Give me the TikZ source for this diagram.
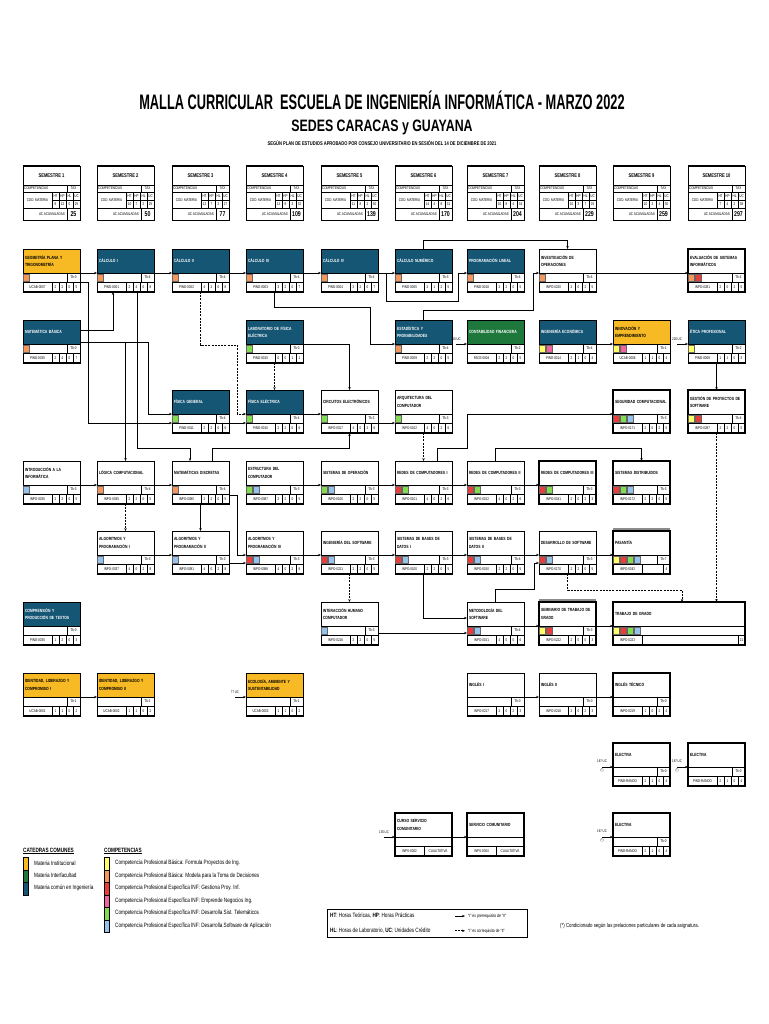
\documentclass[tikz,border=0pt]{standalone}
\usepackage{fontspec}
\setmainfont{Liberation Sans}[FakeStretch=0.75]
\newfontfamily\titfont{Liberation Sans}[FakeStretch=0.61]
\usetikzlibrary{arrows.meta}

\definecolor{azulT}{RGB}{22,86,117}
\definecolor{oroT}{RGB}{247,185,36}
\definecolor{verdeT}{RGB}{30,120,60}
\definecolor{cY}{RGB}{255,255,102}
\definecolor{cO}{RGB}{245,150,90}
\definecolor{cR}{RGB}{235,60,60}
\definecolor{cP}{RGB}{240,100,160}
\definecolor{cG}{RGB}{130,220,80}
\definecolor{cB}{RGB}{150,195,235}

\hyphenpenalty=10000
\exhyphenpenalty=10000

\tikzset{
  caja/.style={draw, line width=.5pt, inner sep=0pt, outer sep=0pt, minimum width=57pt, minimum height=43pt},
  titulo/.style={draw, line width=.5pt, inner sep=2pt, outer sep=0pt, text width=53pt, minimum width=57pt,
    minimum height=24pt, align=left, font=\fontsize{4.5}{7.4}\selectfont\bfseries},
  azul/.style={fill=azulT, text=white},
  oro/.style={fill=oroT, text=black},
  verde/.style={fill=verdeT, text=white},
  blanco/.style={fill=white, text=black},
  grueso/.style={line width=1.3pt},
  celda/.style={inner sep=0pt, font=\fontsize{4}{4.5}\selectfont},
  comp/.style={draw=black!60, line width=.3pt},
  rejilla/.style={line width=.4pt},
  sem/.style={draw, line width=.5pt, inner sep=0pt, outer sep=0pt, minimum width=57pt, minimum height=54pt},
  pre/.style={draw, line width=.7pt, -{Stealth[length=3pt,width=2.4pt]}},
  co/.style={pre, dash pattern=on 2pt off 1.2pt},
  uclab/.style={inner sep=0pt, font=\fontsize{3.8}{4}\selectfont},
  ley/.style={inner sep=0pt, font=\fontsize{6.2}{7}\selectfont},
  muestra/.style={draw, line width=.5pt, inner sep=0pt, minimum width=5pt, minimum height=12.5pt, anchor=north west},
  barra/.style={line width=2pt, black!45}
}

% caja de materia: [marco] nombre, esquina, estilo del titulo, titulo
\newcommand{\materia}[5][]{%
  \node[titulo, #4, anchor=north west] (#2-t) at (#3) {#5};
  \node[caja, anchor=north west, #1] (#2) at (#3) {};
  \coordinate (#2-i) at (#2-t.south west);
  \coordinate (#2-o) at (#2-t.south east);
  \draw[line width=1.2pt] (#2.south west) -- (#2.south east);}

\newcommand{\competencias}[1]{%
  \foreach \col [count=\k from 0] in {#1}{\ifx\col\empty\else
    \filldraw[comp, fill=\col] (7*\k+.6,25) rectangle ++(6,7);\fi}}

% fila de competencias y horas: nombre, colores, TA, codigo, HT/HP/HL/UC
\newcommand{\datos}[5]{%
  \begin{scope}[shift={(#1.north west)}]
    \competencias{#2}
    \draw[rejilla] (0,33) -- (57,33) (44,24) -- (44,33)
      (29,33) -- (29,43) (36,33) -- (36,43) (43,33) -- (43,43) (50,33) -- (50,43);
    \node[celda] (#1-ta) at (50.5,28.5) {#3};
    \node[celda] (#1-cod) at (14.5,38) {#4};
    \foreach \n [count=\k from 0] in {#5}
      \node[celda] (#1-h\k) at (32.5+7*\k,38) {\n};
  \end{scope}}

% pasantia y trabajo de grado: nombre, colores, TA, codigo, UC, ancho
\newcommand{\datosP}[6]{%
  \begin{scope}[shift={(#1.north west)}]
    \competencias{#2}
    \draw[rejilla] (0,33) -- (#6,33) (29,33) -- (29,43) (#6-7,33) -- (#6-7,43);
    \def\tmp{#3}\ifx\tmp\empty\else
      \draw[rejilla] (#6-13,24) -- (#6-13,33);
      \node[celda] (#1-ta) at (#6-6.5,28.5) {#3};\fi
    \node[celda] (#1-cod) at (14.5,38) {#4};
    \node[celda] (#1-uc) at (#6-3.5,38) {#5};
  \end{scope}}

\newcommand{\datosS}[2]{%
  \begin{scope}[shift={(#1.north west)}]
    \draw[rejilla] (0,33) -- (57,33) (29,33) -- (29,43);
    \node[celda] (#1-cod) at (14.5,38) {#2};
    \node[celda] (#1-cual) at (43,38) {CUALITATIVA};
  \end{scope}}

% semestre: numero, x, horas, UC acumuladas
\newcommand{\semestre}[4]{%
  \node[sem, anchor=north west] (s#1) at (#2,166) {};
  \begin{scope}[shift={(s#1.north west)}]
    \draw[line width=1.6pt] (0,0) -- (57,0);
    \node[font=\fontsize{5.4}{6}\selectfont\bfseries] (s#1-t) at (28.5,9.5) {SEMESTRE #1};
    \draw[rejilla] (0,19) -- (57,19) (0,26) -- (57,26) (44,19) -- (44,26) (0,42) -- (57,42)
      (29,26) -- (29,42) (36,26) -- (36,42) (43,26) -- (43,42) (50,26) -- (50,42)
      (29,34) -- (57,34) (44,42) -- (44,54);
    \node[celda, anchor=west] (s#1-c) at (1,22.5) {COMPETENCIAS};
    \node[celda] (s#1-x) at (50.5,22.5) {TAX};
    \node[celda] (s#1-m) at (14.5,34) {COD. MATERIA};
    \foreach \h [count=\k from 0] in {HT,HP,HL,UC}
      \node[celda] (s#1-l\k) at (32.5+7*\k,30) {\h};
    \foreach \n [count=\k from 0] in {#3}
      \node[celda] (s#1-v\k) at (32.5+7*\k,38) {\n};
    \node[celda, anchor=east] (s#1-a) at (42,48) {UC ACUMULADAS};
    \node[font=\fontsize{7}{8}\selectfont\bfseries, inner sep=0pt] (s#1-u) at (50.5,48) {#4};
  \end{scope}}

\begin{document}
\begin{tikzpicture}[x=1pt, y=-1pt]
\useasboundingbox (0,0) rectangle (768,1024);
\fill[white] (0,0) rectangle (768,1024);

\node[font=\titfont\fontsize{21}{23}\selectfont\bfseries] (titulo) at (382,100)
  {MALLA CURRICULAR\ \ ESCUELA DE INGENIERÍA INFORMÁTICA - MARZO 2022};
\node[font=\fontsize{16.5}{18}\selectfont\bfseries] (sedes) at (382,127) {SEDES CARACAS y GUAYANA};
\node[font=\fontsize{5.4}{6}\selectfont\bfseries] (plan) at (382,143)
  {SEGÚN PLAN DE ESTUDIOS APROBADO POR CONSEJO UNIVERSITARIO EN SESIÓN DEL 14 DE DICIEMBRE DE 2021};

\semestre{1}{23}{8,12,0,25}{25}
\semestre{2}{97}{10,7,2,25}{50}
\semestre{3}{172}{12,7,2,27}{77}
\semestre{4}{246}{12,8,3,32}{109}
\semestre{5}{321}{11,8,2,30}{139}
\semestre{6}{395}{14,4,8,31}{170}
\semestre{7}{467}{10,8,4,34}{204}
\semestre{8}{539}{10,3,7,25}{229}
\semestre{9}{613}{10,3,4,30}{259}
\semestre{10}{688}{7,4,2,38}{297}

% fila 1
\materia{geo}{23,249}{oro}{GEOMETRÍA PLANA Y TRIGONOMETRÍA}
\datos{geo}{cO}{TA-0}{UCAB-0007}{2,2,0,5}
\materia{calI}{97,249}{azul}{CÁLCULO I}
\datos{calI}{cO}{TA-4}{PIND-0001}{2,4,0,8}
\materia{calII}{172,249}{azul}{CÁLCULO II}
\datos{calII}{cO}{TA-4}{PIND-0002}{4,2,0,8}
\materia{calIII}{246,249}{azul}{CÁLCULO III}
\datos{calIII}{cO}{TA-4}{PIND-0003}{3,2,0,7}
\materia{calIV}{321,249}{azul}{CÁLCULO IV}
\datos{calIV}{cO}{TA-4}{PIND-0004}{3,2,0,7}
\materia{calnum}{395,249}{azul}{CÁLCULO NUMÉRICO}
\datos{calnum}{cO}{TA-3}{PIND-0005}{2,1,2,5}
\materia{plineal}{467,249}{azul}{PROGRAMACIÓN LINEAL}
\datos{plineal}{cO}{TA-4}{PIND-0018}{2,2,0,5}
\materia{invop}{539,249}{blanco}{INVESTIGACIÓN DE OPERACIONES}
\datos{invop}{cO}{TA-4}{INPO-0220}{2,0,2,5}
\materia[grueso]{evalsis}{688,249}{blanco}{EVALUACIÓN DE SISTEMAS INFORMÁTICOS}
\datos{evalsis}{cO,cR}{TA-4}{INPO-0281}{2,0,2,5}

% fila 2
\materia{matbas}{23,320}{azul}{MATEMÁTICA BÁSICA}
\datos{matbas}{cO}{TA-0}{PIND-0035}{2,4,0,7}
\materia{labfis}{246,320}{azul}{LABORATORIO DE FÍSICA ELÉCTRICA}
\datos{labfis}{cG}{TA-0}{PIND-0015}{0,0,1,1}
\materia{estad}{395,320}{azul}{ESTADÍSTICA Y PROBABILIDADES}
\datos{estad}{cO}{TA-4}{PIND-0009}{2,2,0,5}
\materia{contab}{467,320}{verde}{CONTABILIDAD FINANCIERA}
\datos{contab}{}{TA-2}{FACE-0004}{2,2,0,5}
\materia{ingeco}{539,320}{azul}{INGENIERÍA ECONÓMICA}
\datos{ingeco}{cY,cP}{TA-4}{PIND-0014}{2,1,0,4}
\materia{innov}{613,320}{oro}{INNOVACIÓN Y EMPRENDIMIENTO}
\datos{innov}{cY,cP}{TA-1}{UCAB-0006}{1,1,0,4}
\materia{etica}{688,320}{azul}{ÉTICA PROFESIONAL}
\datos{etica}{cY}{TA-2}{PIND-0008}{1,1,0,3}

% fila 3
\materia{fisgen}{172,390}{azul}{FÍSICA GENERAL}
\datos{fisgen}{cG}{TA-4}{PIND-0011}{2,2,0,6}
\materia{fiselec}{246,390}{azul}{FÍSICA ELÉCTRICA}
\datos{fiselec}{cG}{TA-4}{PIND-0010}{2,2,0,6}
\materia{circ}{321,390}{blanco}{CIRCUITOS ELECTRÓNICOS}
\datos{circ}{cG}{TA-3}{INPO-0017}{4,0,2,6}
\materia{arq}{395,390}{blanco}{ARQUITECTURA DEL COMPUTADOR}
\datos{arq}{cG}{TA-3}{INPO-0102}{4,0,2,6}
\materia[grueso]{seg}{613,390}{blanco}{SEGURIDAD COMPUTACIONAL}
\datos{seg}{cR,cG,cB}{TA-3}{INPO-0171}{2,0,2,5}
\materia[grueso]{gestion}{688,390}{blanco}{GESTIÓN DE PROYECTOS DE SOFTWARE}
\datos{gestion}{cY,cR}{TA-4}{INPO-0287}{2,2,0,5}

% fila 4
\materia{intro}{23,461}{blanco}{INTRODUCCIÓN A LA INFORMÁTICA}
\datos{intro}{cB}{TA-3}{INPO-0030}{2,2,0,5}
\materia{logica}{97,461}{blanco}{LÓGICA COMPUTACIONAL}
\datos{logica}{cO}{TA-4}{INPO-0035}{2,2,0,5}
\materia{discretas}{172,461}{blanco}{MATEMÁTICAS DISCRETAS}
\datos{discretas}{cO}{TA-4}{INPO-0080}{2,2,0,5}
\materia{estruc}{246,461}{blanco}{ESTRUCTURA DEL COMPUTADOR}
\datos{estruc}{cG,cB}{TA-3}{INPO-0087}{2,2,0,5}
\materia{sisop}{321,461}{blanco}{SISTEMAS DE OPERACIÓN}
\datos{sisop}{cG,cB}{TA-3}{INPO-0105}{2,2,0,5}
\materia{redesI}{395,461}{blanco}{REDES DE COMPUTADORES I}
\datos{redesI}{cR,cG}{TA-3}{INPO-0101}{4,0,2,6}
\materia{redesII}{467,461}{blanco}{REDES DE COMPUTADORES II}
\datos{redesII}{cR,cG}{TA-3}{INPO-0152}{4,0,2,6}
\materia[grueso]{redesIII}{539,461}{blanco}{REDES DE COMPUTADORES III}
\datos{redesIII}{cR,cG}{TA-3}{INPO-0181}{2,0,2,3}
\materia[grueso]{sisdist}{613,461}{blanco}{SISTEMAS DISTRIBUIDOS}
\datos{sisdist}{cR,cG,cB}{TA-3}{INPO-0172}{2,2,0,5}

% fila 5
\materia{algI}{97,531}{blanco}{ALGORITMOS Y PROGRAMACIÓN I}
\datos{algI}{cB}{TA-3}{INPO-0037}{4,0,2,8}
\materia{algII}{172,531}{blanco}{ALGORITMOS Y PROGRAMACIÓN II}
\datos{algII}{cB}{TA-3}{INPO-0081}{4,0,2,8}
\materia{algIII}{246,531}{blanco}{ALGORITMOS Y PROGRAMACIÓN III}
\datos{algIII}{cR,cB}{TA-3}{INPO-0088}{4,0,2,8}
\materia{ingsoft}{321,531}{blanco}{INGENIERÍA DEL SOFTWARE}
\datos{ingsoft}{cR,cB}{TA-3}{INPO-0221}{2,2,0,5}
\materia{bdI}{395,531}{blanco}{SISTEMAS DE BASES DE DATOS I}
\datos{bdI}{cR,cB}{TA-3}{INPO-0100}{2,2,0,5}
\materia{bdII}{467,531}{blanco}{SISTEMAS DE BASES DE DATOS II}
\datos{bdII}{cR,cB}{TA-4}{INPO-0150}{2,2,0,5}
\materia{desarr}{539,531}{blanco}{DESARROLLO DE SOFTWARE}
\datos{desarr}{cR,cB}{TA-3}{INPO-0170}{2,2,0,5}
\materia[grueso]{pasantia}{613,531}{blanco}{PASANTÍA}
\datosP{pasantia}{cY,cR,cG,cB}{TA-7}{INPO-0192}{4}{57}
\draw[barra] ([yshift=1.6pt]pasantia.north west) -- ([yshift=1.6pt]pasantia.north east);

% fila 6
\materia{comprens}{23,602}{azul}{COMPRENSIÓN Y PRODUCCIÓN DE TEXTOS}
\datos{comprens}{}{TA-0}{PIND-0030}{1,2,0,3}
\materia{ihc}{321,602}{blanco}{INTERACCIÓN HUMANO COMPUTADOR}
\datos{ihc}{cB}{TA-3}{INPO-0216}{2,2,0,5}
\materia{metod}{467,602}{blanco}{METODOLOGÍA DEL SOFTWARE}
\datos{metod}{cR,cB}{TA-4}{INPO-0151}{4,0,0,6}
\materia[grueso]{seminario}{539,602}{blanco}{SEMINARIO DE TRABAJO DE GRADO}
\datos{seminario}{cY,cR}{TA-3}{INPO-0222}{2,0,0,3}
\draw[barra] ([yshift=1.6pt]seminario.north west) -- ([yshift=1.6pt]seminario.north east);
\materia[grueso, minimum width=132pt]{tgrado}{613,602}{blanco, text width=128pt, minimum width=132pt}{TRABAJO DE GRADO}
\datosP{tgrado}{cY,cR,cG,cB}{}{INPO-0223}{21}{132}

% fila 7
\materia{identI}{23,673}{oro}{IDENTIDAD, LIDERAZGO Y COMPROMISO I}
\datos{identI}{}{TA-1}{UCAB-0001}{1,1,0,2}
\materia{identII}{97,673}{oro}{IDENTIDAD, LIDERAZGO Y COMPROMISO II}
\datos{identII}{}{TA-1}{UCAB-0002}{1,1,0,2}
\materia{ecolog}{246,673}{oro}{ECOLOGÍA, AMBIENTE Y SUSTENTABILIDAD}
\datos{ecolog}{}{TA-1}{UCAB-0003}{1,1,0,2}
\materia{inglesI}{467,673}{blanco}{INGLÉS I}
\datos{inglesI}{}{TA-0}{INPO-0217}{2,0,2,3}
\materia{inglesII}{539,673}{blanco}{INGLÉS II}
\datos{inglesII}{}{TA-0}{INPO-0218}{2,0,2,3}
\materia[grueso]{ingtec}{613,673}{blanco}{INGLÉS TÉCNICO}
\datos{ingtec}{}{TA-0}{INPO-0219}{1,0,2,4}

% electivas y servicio comunitario
\materia[grueso]{elecA}{613,743}{blanco}{ELECTIVA}
\datos{elecA}{}{TA-0}{PIND-RANDO}{2,1,0,4}
\materia[grueso]{elecB}{688,743}{blanco}{ELECTIVA}
\datos{elecB}{}{TA-0}{PIND-RANDO}{2,1,0,4}
\materia[grueso]{elecC}{613,813}{blanco}{ELECTIVA}
\datos{elecC}{}{TA-0}{PIND-RANDO}{2,1,0,4}
\materia[grueso]{cursosc}{395,813}{blanco}{CURSO SERVICIO COMUNITARIO}
\datosS{cursosc}{INPS-0002}
\materia[grueso]{servcom}{467,813}{blanco}{SERVICIO COMUNITARIO}
\datosS{servcom}{INPS-0004}

% prelaciones en linea
\foreach \a/\b in {geo/calI, calI/calII, calII/calIII, calIII/calIV, calIV/calnum, invop/evalsis,
    fiselec/circ, ingeco/innov, intro/logica, logica/discretas, estruc/sisop, sisop/redesI,
    redesI/redesII, redesII/redesIII, algI/algII, algIII/ingsoft, ingsoft/bdI, bdI/bdII,
    bdII/desarr, desarr/pasantia, metod/seminario, seminario/tgrado, identI/identII,
    inglesI/inglesII, inglesII/ingtec, cursosc/servcom}
  \draw[pre] (\a-o) -- (\b-i);

\draw[pre] (calIV-o) -- ++(8,0) -- ++(0,28) -- ++(72,0) -- ++(0,-28) -- (plineal-i);
\draw[pre] (calIII.south) -- ++(0,15) -| ([xshift=-25pt]estad-i) -- (estad-i);
\draw[pre] (estad.north) -- ++(0,-10) -| ([xshift=-6pt]invop-i) -- (invop-i);
\draw[pre] (calnum.north) -- ++(0,-9) -| (invop.north);
\draw[pre] ([yshift=-10pt]matbas.north east) -| ([xshift=16pt]calI.south west);
\draw[pre] ([yshift=-22pt]matbas.north east) -| ([xshift=-24pt]fisgen-i) -- (fisgen-i);
\draw[pre] ([yshift=-22pt]matbas.north east) -| (logica.north);
\draw[pre] ([yshift=-33pt]geo.north east) -- ++(8,0) |- ([yshift=-33pt]fisgen.north west);
\draw[pre] ([xshift=40pt]calI.south west) -- ++(0,156) -| ([xshift=18pt]discretas.north west);
\draw[co] (calII.south) -- ++(0,53) -| ([xshift=-9pt]fiselec-i) -- (fiselec-i);
\draw[co] (labfis.south) -- (fiselec.north);
\draw[pre] ([yshift=-33pt]fisgen.north east) -- ([yshift=-33pt]fiselec.north west);
\draw[pre] (labfis-o) -| (circ.north);
\draw[pre] ([xshift=40pt]discretas.north west) -- ++(0,-13) -| (circ.south);
\draw[pre] ([yshift=-33pt]circ.north east) -- ([yshift=-33pt]arq.north west);
\draw[co] (arq.south) -- (redesI.north);
\draw[pre] ([xshift=42pt]redesI.north west) -- ++(0,-13) -| ([xshift=-146pt]seg-i) -- (seg-i);
\draw[pre] (redesII.north) -- ++(0,-13) -| (sisdist.north);
\draw[pre] (etica.south) -- (gestion.north);
\draw[co] (gestion.south) -- (gestion.south |- tgrado.north);
\draw[co] (logica.south) -- (algI.north);
\draw[pre] (discretas.south) -- (algII.north);
\draw[pre] ([yshift=-34pt]discretas.north east) -| ([xshift=-9pt]algIII-i) -- (algIII-i);
\draw[pre] ([yshift=-32pt]algII.north east) -- ([yshift=-32pt]algIII.north west);
\draw[co] (ingsoft.south) -- (ihc.north);
\draw[pre] (bdI.south) |- ([yshift=-16pt]metod.north west);
\draw[pre] ([yshift=-31pt]ihc.north east) -- ([yshift=-31pt]metod.north west);
\draw[pre] (metod.north) -- ++(0,-13) -| ([xshift=-5pt,yshift=-32pt]desarr.north west)
  -- ([yshift=-32pt]desarr.north west);
\draw[co] (desarr.south) -- ++(0,16) -| ([xshift=69pt]tgrado.north west);

% requisitos por unidades credito
\foreach \m/\uc in {contab/110 UC, etica/220 UC, ecolog/77 UC, cursosc/135 UC} {
  \coordinate (\m-uc) at ([xshift=-11pt]\m-i);
  \draw[pre] (\m-uc) -- (\m-i);
  \node[uclab, anchor=south] (\m-uct) at ([yshift=3pt]\m-uc) {\uc};
}
\foreach \m in {elecA, elecB, elecC} {
  \coordinate (\m-uc) at ([xshift=-11pt]\m-i);
  \draw[pre] (\m-uc) -- (\m-i);
  \node[uclab, anchor=south] (\m-uct) at ([yshift=4pt]\m-uc) {187 UC};
  \node[uclab, anchor=north] (\m-ast) at ([yshift=-1.5pt]\m-uc) {(*)};
}

% leyendas
\node[ley, anchor=west, font=\fontsize{6.2}{7}\selectfont\bfseries] (catedras) at (23,851) {\underline{CATEDRAS COMUNES}};
\foreach \col/\txt [count=\k from 0] in {oroT/Materia Institucional, verdeT/Materia Interfacultad,
    azulT/Materia común en Ingeniería} {
  \node[muestra, fill=\col] (cat\k) at (23,857+12.5*\k) {};
  \node[ley, anchor=west] (catt\k) at (34,863.25+12.5*\k) {\txt};
}
\node[ley, anchor=west, font=\fontsize{6.2}{7}\selectfont\bfseries] (compet) at (104,851) {\underline{COMPETENCIAS}};
\foreach \col/\txt [count=\k from 0] in {
    cY/Competencia Profesional Básica: Formula Proyectos de Ing.,
    cO/Competencia Profesional Básica: Modela para la Toma de Decisiones,
    cR/Competencia Profesional Específica INF: Gestiona Proy. Inf.,
    cP/Competencia Profesional Específica INF: Emprende Negocios Ing.,
    cG/Competencia Profesional Específica INF: Desarrolla Sist. Telemáticos,
    cB/Competencia Profesional Específica INF: Desarrolla Software de Aplicación} {
  \node[muestra, fill=\col] (comp\k) at (104,857+12.5*\k) {};
  \node[ley, anchor=west] (compt\k) at (115,863.25+12.5*\k) {\txt};
}

\node[draw, line width=.8pt, minimum width=200pt, minimum height=28pt, inner sep=0pt, anchor=north west] (leyenda) at (327,909) {};
\node[ley, anchor=west] (ley1) at ([xshift=3pt,yshift=-7pt]leyenda.north west)
  {\textbf{HT}: Horas Teóricas, \textbf{HP}: Horas Prácticas};
\node[ley, anchor=west] (ley2) at ([xshift=3pt,yshift=7pt]leyenda.south west)
  {\textbf{HL}: Horas de Laboratorio, \textbf{UC}: Unidades Crédito};
\coordinate (leyA) at ([xshift=128pt,yshift=-7pt]leyenda.north west);
\coordinate (leyB) at ([xshift=138pt,yshift=-7pt]leyenda.north west);
\coordinate (leyC) at ([xshift=128pt,yshift=7pt]leyenda.south west);
\coordinate (leyD) at ([xshift=138pt,yshift=7pt]leyenda.south west);
\draw[pre] (leyA) -- (leyB);
\draw[co] (leyC) -- (leyD);
\node[ley, anchor=west, font=\fontsize{4.6}{5}\selectfont] (ley3) at ([xshift=3pt]leyB) {“I” es prerrequisito de “II”};
\node[ley, anchor=west, font=\fontsize{4.6}{5}\selectfont] (ley4) at ([xshift=3pt]leyD) {“I” es correquisito de “II”};

\node[ley, anchor=west, font=\fontsize{5.8}{6.5}\selectfont] (nota) at (560,926)
  {(*) Condicionado según las prelaciones particulares de cada asignatura.};
\end{tikzpicture}
\end{document}
